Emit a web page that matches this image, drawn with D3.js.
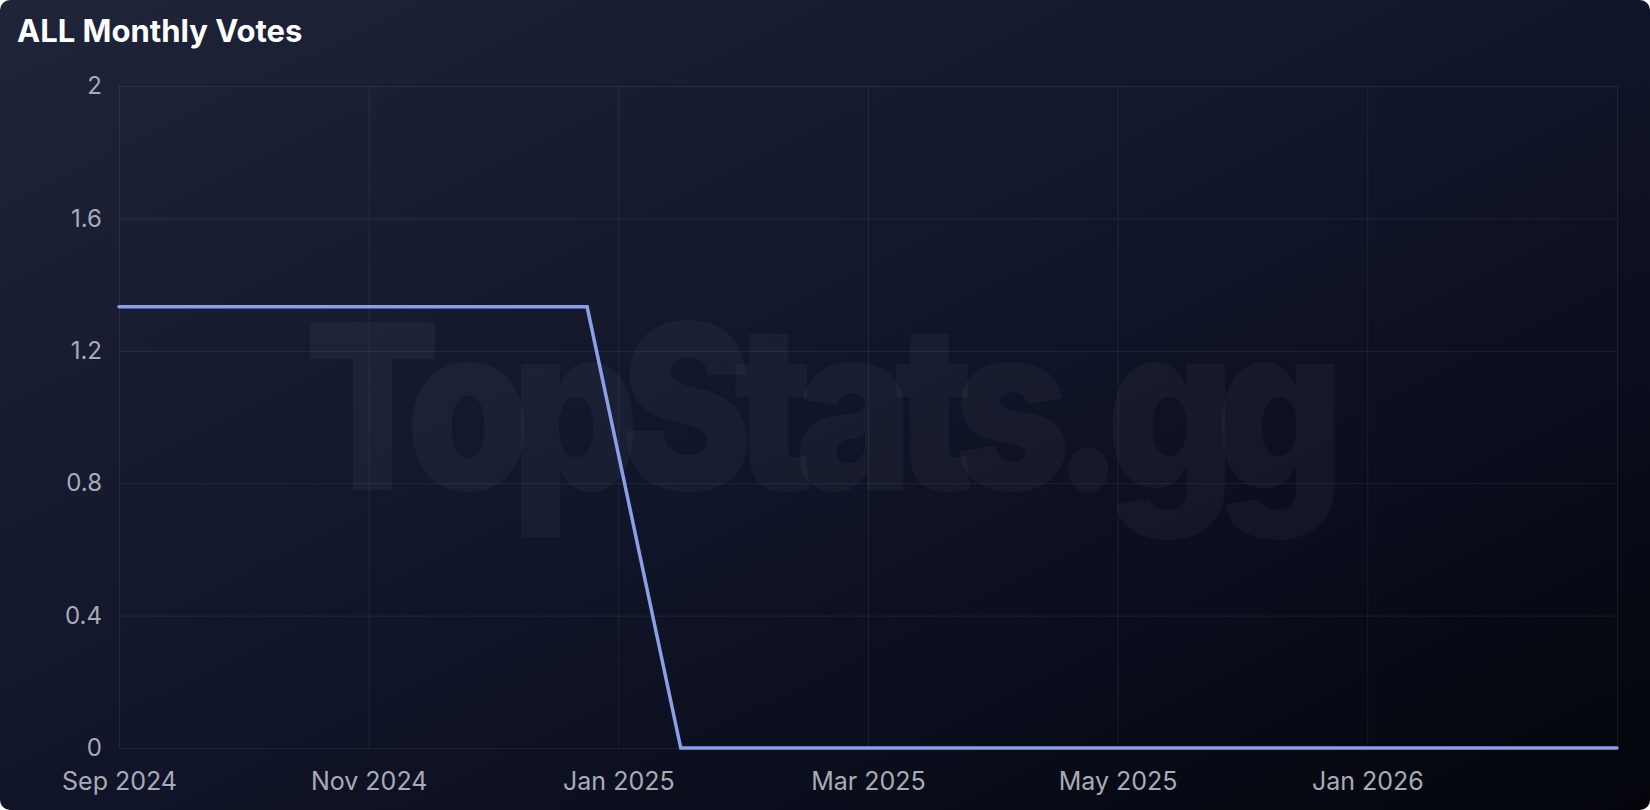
<!DOCTYPE html>
<html>
<head>
<meta charset="utf-8">
<script src="https://cdn.jsdelivr.net/npm/d3@7"></script>
<style>
  body { margin: 0; background: #ffffff; }
  svg { display: block; }
</style>
</head>
<body>
<script>
// chart values
var votes = [1.333, 1.333, 1.333, 1.333, 1.333, 1.333, 0, 0, 0, 0, 0, 0, 0, 0, 0, 0, 0];
var tickLabels = ["Sep 2024", "Nov 2024", "Jan 2025", "Mar 2025", "May 2025", "Jan 2026", ""];
var yTicks = [0, 0.4, 0.8, 1.2, 1.6, 2];

function drawChart(){

  var wx = 1650,
      hy = 810;

  var left = 119,
      right = 1617,
      top = 86,
      bottom = 748;

  var svg = d3.select("body")
      .append("svg")
      .attr("width", wx)
      .attr("height", hy);

  // card background
  var grad = svg.append("defs")
      .append("linearGradient")
      .attr("id", "bg")
      .attr("x1", "0").attr("y1", "0")
      .attr("x2", "1").attr("y2", "1");
  grad.append("stop").attr("offset", "0").attr("stop-color", "#1f2439");
  grad.append("stop").attr("offset", "0.5").attr("stop-color", "#11152a");
  grad.append("stop").attr("offset", "1").attr("stop-color", "#03050b");

  svg.append("rect")
      .attr("width", wx)
      .attr("height", hy)
      .attr("rx", 10)
      .attr("fill", "url(#bg)");

  // watermark, tight heavy letters
  svg.append("text")
      .attr("x", 815)
      .attr("y", 490)
      .attr("text-anchor", "middle")
      .attr("textLength", 1021)
      .attr("lengthAdjust", "spacingAndGlyphs")
      .style("font-family", "Inter")
      .style("font-weight", 900)
      .style("font-size", "231px")
      .style("letter-spacing", "-22px")
      .attr("fill", "rgba(255,255,255,0.035)")
      .text("TopStats.gg");

  // title
  svg.append("text")
      .attr("x", 17)
      .attr("y", 42)
      .style("font-family", "Inter")
      .style("font-weight", 700)
      .style("font-size", "31px")
      .attr("fill", "#ffffff")
      .text("ALL Monthly Votes");

  var x = d3.scaleLinear()
      .domain([0, votes.length - 1])
      .range([left, right]);

  var tickPos = d3.scaleLinear()
      .domain([0, tickLabels.length - 1])
      .range([0, votes.length - 1]);

  var y = d3.scaleLinear()
      .domain([0, 2])
      .range([bottom, top]);

  var xTickVals = tickLabels.map(function(d, i){ return tickPos(i); });

  // grid
  var grid = svg.append("g")
      .attr("stroke", "rgba(255,255,255,0.07)")
      .attr("stroke-width", 1);

  grid.selectAll(".gx")
      .data(xTickVals)
      .enter().append("line")
      .attr("x1", function(d){ return x(d) + 0.5; })
      .attr("x2", function(d){ return x(d) + 0.5; })
      .attr("y1", top)
      .attr("y2", bottom);

  grid.selectAll(".gy")
      .data(yTicks)
      .enter().append("line")
      .attr("x1", left)
      .attr("x2", right)
      .attr("y1", function(d){ return y(d) + 0.5; })
      .attr("y2", function(d){ return y(d) + 0.5; });

  // axes
  svg.append("g")
      .attr("class", "yaxis")
      .attr("transform", "translate(" + left + ",0)")
      .call(d3.axisLeft(y).tickValues(yTicks).tickSize(0).tickPadding(17)
          .tickFormat(function(d){ return d; }));

  svg.append("g")
      .attr("class", "xaxis")
      .attr("transform", "translate(0," + bottom + ")")
      .call(d3.axisBottom(x).tickValues(xTickVals).tickSize(0).tickPadding(24)
          .tickFormat(function(d, i){ return tickLabels[i]; }));

  svg.selectAll(".domain").remove();
  svg.selectAll(".tick text")
      .style("font-family", "Inter")
      .style("font-size", "24px")
      .attr("fill", "#a9abb6");
  svg.selectAll(".xaxis .tick text")
      .style("font-size", "25px");

  // votes line
  var line = d3.line()
      .x(function(d, i){ return x(i); })
      .y(function(d){ return y(d); });

  svg.append("path")
      .datum(votes)
      .attr("d", line)
      .attr("fill", "none")
      .attr("stroke", "#8c9fe6")
      .attr("stroke-width", 3.5)
      .attr("stroke-linejoin", "miter")
      .attr("stroke-linecap", "round");
}
drawChart();
</script>
</body>
</html>
